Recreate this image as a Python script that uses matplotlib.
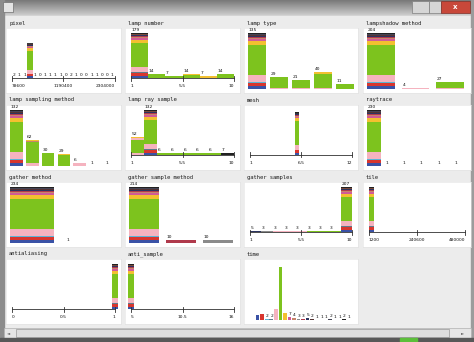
import matplotlib
matplotlib.use('Agg')
import matplotlib.pyplot as plt
from matplotlib.patches import Rectangle
from matplotlib.colors import LinearSegmentedColormap
import numpy as np

W, H = 474, 342

# colours of the class values ("time"), bottom of a stack first
class_colors = ['#3a52a6', '#d8362e', '#5ab4d6', '#5d7a8c', '#f5b3bf', '#7dc31e',
                '#f3c030', '#d05a98', '#c8846a', '#8a8a8a', '#b03a4c', '#2c3460',
                '#553333', '#6a3a4a', '#333333', '#7a4a3a', '#444455', '#5a2a2a',
                '#3c3c3c', '#222222', '#4e3e36']
PINK, GREEN, ORANGE, TAN, GRAY, ROSE, NAVY, DARK = 4, 5, 6, 8, 9, 10, 11, 19

# class attribute
time_counts = [11, 15, 2, 2, 27, 127, 17, 7, 4, 3, 3, 5, 2, 1, 1, 1, 2, 1, 1, 2, 1]

# numeric attributes: bin counts + axis labels
pixel_counts = [2, 1, 1, 220, 1, 0, 1, 1, 1, 1, 0, 2, 1, 0, 0, 1, 1, 0, 0, 1]
pixel_ticks = ['78600', '1190400', '2304000']

lamp_number_counts = [179, 14, 7, 14, 7, 14]
lamp_number_ticks = ['1', '5.5', '10']
lamp_number_mix = {1: [(GREEN, 14)], 2: [(GREEN, 7)], 3: [(GREEN, 12), (ORANGE, 2)],
                   4: [(ORANGE, 7)], 5: [(GREEN, 14)]}

lamp_ray_counts = [52, 132, 6, 6, 6, 6, 6, 7]
lamp_ray_ticks = ['1', '5.5', '10']
lamp_ray_mix = {0: [(PINK, 6), (GREEN, 38), (PINK, 5), (ORANGE, 3)], 7: [(DARK, 7)]}

mesh_counts = [1, 0, 0, 0, 0, 0, 0, 0, 0, 0, 0, 233, 0, 0, 0, 0, 0, 0, 0, 0, 0, 0, 0, 0, 1]
mesh_ticks = ['1', '6.5', '12']

gather_samples_counts = [5, 3, 3, 3, 3, 3, 3, 3, 207]
gather_samples_ticks = ['1', '5.5', '10']
gather_samples_mix = {0: [(NAVY, 5)], 1: [(GRAY, 3)], 2: [(PINK, 3)], 3: [(PINK, 3)],
                      4: [(PINK, 3)]}

tile_counts = [234, 0, 0, 0, 0, 0, 0, 0, 0, 0, 0, 0, 0, 0, 0, 0, 0, 0, 0, 1]
tile_ticks = ['1200', '240600', '480000']

antialias_counts = [1, 0, 0, 0, 0, 0, 0, 0, 0, 0, 0, 0, 0, 0, 0, 0, 0, 0, 0, 0, 234]
antialias_ticks = ['0', '0.5', '1']

anti_sample_counts = [234, 0, 0, 0, 0, 0, 0, 0, 0, 0, 0, 0, 0, 0, 0, 0, 0, 0, 0, 0, 1]
anti_sample_ticks = ['5', '10.5', '16']

# nominal attributes
lamp_type_counts = [135, 29, 21, 40, 11]
lamp_type_mix = {1: [(PINK, 2), (GREEN, 27)], 2: [(PINK, 2), (GREEN, 19)],
                 3: [(PINK, 3), (GREEN, 32), (ORANGE, 5)], 4: [(PINK, 1), (GREEN, 10)]}

lampshadow_counts = [204, 4, 27]
lampshadow_mix = {1: [(PINK, 4)], 2: [(PINK, 3), (GREEN, 24)]}

lamp_sampling_counts = [132, 62, 30, 29, 6, 1, 1]
lamp_sampling_mix = {1: [(PINK, 6), (GREEN, 50), (TAN, 3), (ORANGE, 3)], 2: [(GREEN, 30)],
                     3: [(GREEN, 26), (ORANGE, 3)], 4: [(PINK, 6)]}

raytrace_counts = [230, 1, 1, 1, 1, 1]
gather_method_counts = [234, 1]
gather_sample_method_counts = [214, 10, 10]
gather_sample_method_mix = {1: [(ROSE, 10)], 2: [(GRAY, 10)]}

# panel grid (pixels)
col_x = [6, 125, 244, 363]
col_w = [115, 115, 114, 108]
row_y = [28, 105, 182, 259]
row_h = 65

fig = plt.figure(figsize=(W / 100, H / 100), dpi=100)
fig.patch.set_facecolor('#ececec')
bg = fig.add_axes([0, 0, 1, 1])

# window chrome
grad = LinearSegmentedColormap.from_list('bar', ['#7a7a7a', '#a4a4a4', '#cfcfcf'])
bg.imshow(np.linspace(0, 1, 16)[:, None], cmap=grad, extent=(0, W, 16, 0), aspect='auto')
bg.add_patch(Rectangle((0, 16), W, H - 16, color='#ececec'))
bg.add_patch(Rectangle((0, 0), 4, H, color='#8c8c8c'))
bg.add_patch(Rectangle((471, 0), 3, H, color='#9c9c9c'))
bg.add_patch(Rectangle((3, 2), 10, 10, facecolor='#e4e4e4', edgecolor='#707070', lw=0.5))
bg.add_patch(Rectangle((412, 1), 17, 12, facecolor='#d6d6d6', edgecolor='#808080', lw=0.5))
bg.add_patch(Rectangle((429, 1), 12, 12, facecolor='#d6d6d6', edgecolor='#808080', lw=0.5))
bg.add_patch(Rectangle((441, 1), 29, 12, facecolor='#c8483a', edgecolor='#803028', lw=0.5))
bg.text(455.5, 7, 'x', color='white', fontsize=5, ha='center', va='center', weight='bold')
# horizontal scrollbar
bg.add_patch(Rectangle((4, 328), 467, 10, facecolor='#e6e6e6', edgecolor='#b0b0b0', lw=0.5))
bg.add_patch(Rectangle((16, 329), 433, 8, facecolor='#dedede', edgecolor='#9a9a9a', lw=0.5))
bg.text(9, 333, '◄', fontsize=3, color='#606060', ha='center', va='center')
bg.text(463, 333, '►', fontsize=3, color='#606060', ha='center', va='center')
bg.add_patch(Rectangle((0, 338), W, 4, color='#585858'))
bg.add_patch(Rectangle((400, 338), 17, 4, color='#5cbf3a'))
bg.set_xlim(0, W)
bg.set_ylim(H, 0)
bg.axis('off')

char_px = 0.636 * 3.2 * 100 / 72
share = np.array(time_counts) / sum(time_counts)


def draw_panel(col, row, title, counts, mix=None, ticks=None, centered=False,
               labels=True, xlim=None, head_px=5):
    x, y, w, h = col_x[col], row_y[row], col_w[col], row_h
    ax = fig.add_axes([x / W, 1 - (y + h) / H, w / W, h / H])
    ax.set_facecolor('white')
    for s in ax.spines.values():
        s.set_color('#e2e2e2')
        s.set_linewidth(0.4)
    ax.set_xticks([])
    ax.set_yticks([])
    fig.text((x + 3) / W, 1 - (y - 5) / H, title, fontsize=4,
             family='DejaVu Sans Mono', va='center', color='#1e1e1e')

    n = len(counts)
    top = max(counts)
    base_px = 15 if ticks else 4
    per_px = top / (h - base_px - head_px)
    ax.set_ylim(-base_px * per_px, top + head_px * per_px)

    if ticks:
        lo, hi = float(ticks[0]), float(ticks[-1])
        per_x = (hi - lo) / (w - 12)
        ax.set_xlim(lo - 6 * per_x, hi + 6 * per_x)
        if centered:
            width = (hi - lo) / (n - 1)
            lefts = np.linspace(lo, hi, n) - width / 2
        else:
            width = (hi - lo) / n
            lefts = lo + width * np.arange(n)
    else:
        if xlim is None:
            slot_px = (w - 4) / n
            xlim = (-4 / slot_px, n)
        ax.set_xlim(*xlim)
        per_x = (xlim[1] - xlim[0]) / w
        width = 0.8
        lefts = np.arange(n)

    mix = mix or {}
    main = int(np.argmax(counts))
    for i, c in enumerate(counts):
        if i in mix:
            segs = mix[i]
        elif i == main:
            segs = [(k, c * s) for k, s in enumerate(share)]
        else:
            segs = [(GREEN, c)]
        bottom = 0
        for k, v in segs:
            ax.bar(lefts[i], v, width=width, bottom=bottom, align='edge',
                   color=class_colors[k], linewidth=0)
            bottom += v
        if labels and len(str(c)) * char_px <= width / per_x + 0.5:
            ax.text(lefts[i] + 0.8 * per_x, c + 1.0 * per_px, str(c), fontsize=3.2,
                    ha='left', va='bottom', color='#111111')

    if ticks:
        ax.plot([lo, hi], [0, 0], color='#303030', lw=0.6)
        for t, ha in zip(ticks, ['left', 'center', 'right']):
            tv = float(t)
            ax.plot([tv, tv], [-2.5 * per_px, 2.5 * per_px], color='#303030', lw=0.6)
            ax.text(tv, -8 * per_px, t, fontsize=3.2, ha=ha, va='center', color='#111111')


draw_panel(0, 0, 'pixel', pixel_counts, ticks=pixel_ticks, head_px=15)
draw_panel(1, 0, 'lamp number', lamp_number_counts, lamp_number_mix, ticks=lamp_number_ticks)
draw_panel(2, 0, 'lamp type', lamp_type_counts, lamp_type_mix)
draw_panel(3, 0, 'lampshadow method', lampshadow_counts, lampshadow_mix)

draw_panel(0, 1, 'lamp sampling method', lamp_sampling_counts, lamp_sampling_mix)
draw_panel(1, 1, 'lamp ray sample', lamp_ray_counts, lamp_ray_mix, ticks=lamp_ray_ticks)
draw_panel(2, 1, 'mesh', mesh_counts, ticks=mesh_ticks, labels=False, head_px=7)
draw_panel(3, 1, 'raytrace', raytrace_counts)

draw_panel(0, 2, 'gather method', gather_method_counts)
draw_panel(1, 2, 'gather sample method', gather_sample_method_counts, gather_sample_method_mix)
draw_panel(2, 2, 'gather samples', gather_samples_counts, gather_samples_mix,
           ticks=gather_samples_ticks)
draw_panel(3, 2, 'tile', tile_counts, ticks=tile_ticks, labels=False)

draw_panel(0, 3, 'antialiasing', antialias_counts, ticks=antialias_ticks,
           centered=True, labels=False)
draw_panel(1, 3, 'anti_sample', anti_sample_counts, ticks=anti_sample_ticks,
           centered=True, labels=False)
time_mix = {i: [(i, c)] for i, c in enumerate(time_counts)}
draw_panel(2, 3, 'time', time_counts, time_mix, xlim=(-2.6, 22.5), head_px=8)

fig.savefig('out.png', dpi=100, facecolor=fig.get_facecolor())
